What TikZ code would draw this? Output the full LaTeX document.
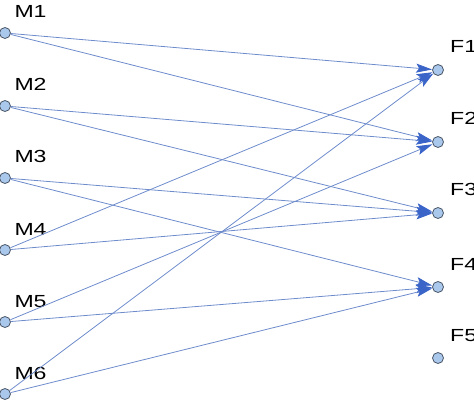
\documentclass[tikz,border=0pt]{standalone}
\usepackage{graphicx}
\usepackage{fontspec}
\setmainfont{Liberation Sans}
\usetikzlibrary{arrows.meta}
\definecolor{nodefill}{HTML}{A9C8EC}
\definecolor{nodeline}{HTML}{4A5566}
\definecolor{edgecol}{HTML}{6E8CCC}
\definecolor{tipcol}{HTML}{3A64C8}
\newcommand{\widetxt}[1]{\scalebox{1.32}[1]{#1}}
\tikzset{
  vtx/.style={circle,draw=nodeline,fill=nodefill,line width=0.8pt,minimum size=11pt,inner sep=0pt},
  lbl/.style={anchor=base west,inner sep=0pt,font={\fontsize{17.5}{21}\selectfont}},
  edge/.style={draw=edgecol,line width=0.8pt,-{Stealth[length=16pt,width=9pt,inset=3pt,fill=tipcol,color=tipcol]}}
}
\begin{document}
\begin{tikzpicture}[x=1pt,y=-1pt]
\useasboundingbox (0,0) rectangle (474,401);
% left nodes
\node[vtx] (M1) at (5,33) {};
\node[vtx] (M2) at (5,106) {};
\node[vtx] (M3) at (5,178) {};
\node[vtx] (M4) at (5,250) {};
\node[vtx] (M5) at (5,322) {};
\node[vtx] (M6) at (5,394) {};
% right nodes
\node[vtx] (F1) at (438,70) {};
\node[vtx] (F2) at (438,142) {};
\node[vtx] (F3) at (438,213) {};
\node[vtx] (F4) at (438,287) {};
\node[vtx] (F5) at (438,358) {};
% labels
\node[lbl] (lM1) at (14.3,18) {\widetxt{M1}};
\node[lbl] (lM2) at (14.3,91) {\widetxt{M2}};
\node[lbl] (lM3) at (14.3,163) {\widetxt{M3}};
\node[lbl] (lM4) at (14.3,235) {\widetxt{M4}};
\node[lbl] (lM5) at (14.3,307) {\widetxt{M5}};
\node[lbl] (lM6) at (14.3,379) {\widetxt{M6}};
\node[lbl] (lF1) at (450,53) {\widetxt{F1}};
\node[lbl] (lF2) at (450,125) {\widetxt{F2}};
\node[lbl] (lF3) at (450,196) {\widetxt{F3}};
\node[lbl] (lF4) at (450,270) {\widetxt{F4}};
\node[lbl] (lF5) at (450,341) {\widetxt{F5}};
% edges
\draw[edge] (M1) -- (F1);
\draw[edge] (M1) -- (F2);
\draw[edge] (M2) -- (F2);
\draw[edge] (M2) -- (F3);
\draw[edge] (M3) -- (F3);
\draw[edge] (M3) -- (F4);
\draw[edge] (M4) -- (F1);
\draw[edge] (M4) -- (F3);
\draw[edge] (M5) -- (F2);
\draw[edge] (M5) -- (F4);
\draw[edge] (M6) -- (F1);
\draw[edge] (M6) -- (F4);
\end{tikzpicture}
\end{document}
